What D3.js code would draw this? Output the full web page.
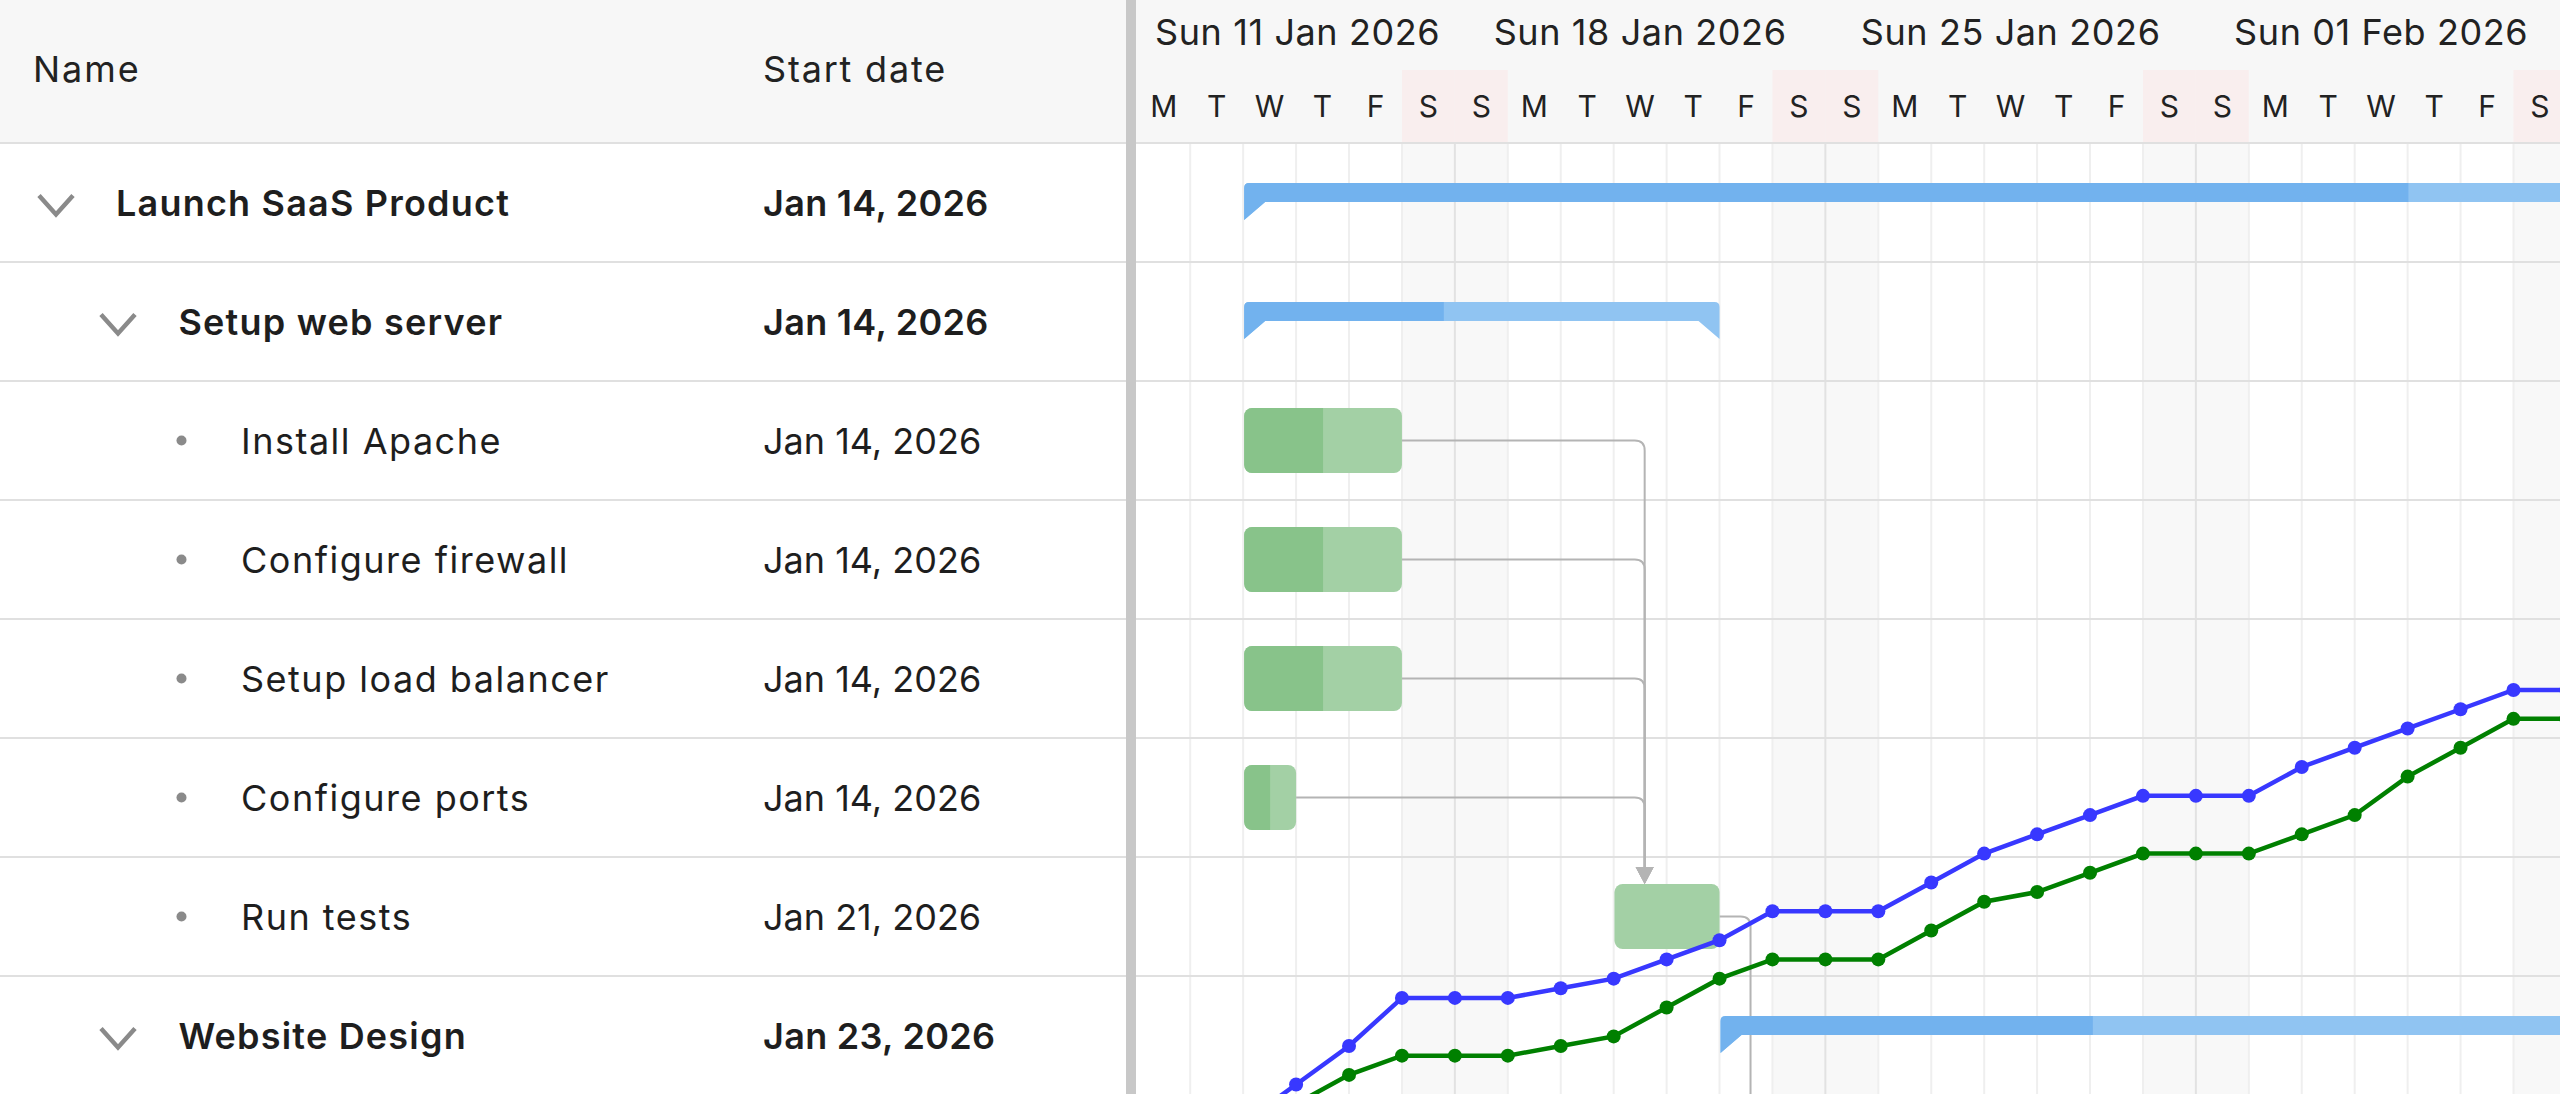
<!DOCTYPE html>
<html>
<head>
<meta charset="utf-8">
<script src="https://cdn.jsdelivr.net/npm/d3@7"></script>
<style>
  html, body { margin: 0; padding: 0; background: #fff; overflow: hidden; }
  svg { display: block; font-family: Inter, "Noto Sans", sans-serif; }
</style>
</head>
<body>
<svg id="gantt" width="2560" height="1094"></svg>
<script>
// ---- data ----
var taskNames = ["Launch SaaS Product", "Setup web server", "Install Apache", "Configure firewall",
  "Setup load balancer", "Configure ports", "Run tests", "Website Design"];
var taskLevels = [0, 1, 2, 2, 2, 2, 2, 1];
var taskStarts = ["2026-01-14", "2026-01-14", "2026-01-14", "2026-01-14", "2026-01-14", "2026-01-14", "2026-01-21", "2026-01-23"];
var taskEnds = ["2026-02-14", "2026-01-23", "2026-01-17", "2026-01-17", "2026-01-17", "2026-01-15", "2026-01-23", "2026-02-14"];
var taskDone = [71, 42, 50, 50, 50, 50, 0, 32];

// dependencies: source row -> target row / target start
var depSource = [2, 3, 4, 5, 6];
var depTargetRow = [6, 6, 6, 6, 8];
var depTargetStart = ["2026-01-21", "2026-01-21", "2026-01-21", "2026-01-21", "2026-01-23"];

// overlay series
var lineDates = ["2026-01-14", "2026-01-15", "2026-01-16", "2026-01-17", "2026-01-18", "2026-01-19", "2026-01-20",
  "2026-01-21", "2026-01-22", "2026-01-23", "2026-01-24", "2026-01-25", "2026-01-26", "2026-01-27", "2026-01-28",
  "2026-01-29", "2026-01-30", "2026-01-31", "2026-02-01", "2026-02-02", "2026-02-03", "2026-02-04", "2026-02-05",
  "2026-02-06", "2026-02-07", "2026-02-08"];
var blueValues = [0, 4, 8, 13, 13, 13, 14, 15, 17, 19, 22, 22, 22, 25, 28, 30, 32, 34, 34, 34, 37, 39, 41, 43, 45, 45];
var greenValues = [0, 2, 5, 7, 7, 7, 8, 9, 12, 15, 17, 17, 17, 20, 23, 24, 26, 28, 28, 28, 30, 32, 36, 39, 42, 42];

var viewStart = "2026-01-12";
var viewEnd = "2026-02-08";
var weekStart = "2026-01-11";

// ---- layout ----
var width = 2560, height = 1094;
var headerH = 143, rowH = 119;
var splitX = 1126, splitW = 10;
var tlLeft = splitX + splitW;
var dayW = 52.93;

var parse = d3.utcParse("%Y-%m-%d");
var x = d3.scaleUtc()
  .domain([parse(viewStart), parse(viewEnd)])
  .range([1137.3, 1137.3 + 27 * dayW]);

var yLine = d3.scaleLinear().domain([0, 45]).range([1123, 690]);

var svg = d3.select("#gantt");
var defs = svg.append("defs");

defs.append("clipPath").attr("id", "tlClip")
  .append("rect").attr("x", tlLeft).attr("y", 0).attr("width", width - tlLeft).attr("height", height);
defs.append("clipPath").attr("id", "bodyClip")
  .append("rect").attr("x", tlLeft).attr("y", headerH).attr("width", width - tlLeft).attr("height", height - headerH);
defs.append("clipPath").attr("id", "gridClip")
  .append("rect").attr("x", 0).attr("y", 0).attr("width", splitX).attr("height", height);

// backgrounds
svg.append("rect").attr("width", width).attr("height", height).attr("fill", "#fff");
svg.append("rect").attr("width", width).attr("height", headerH).attr("fill", "#f7f7f7");

var days = d3.utcDays(parse(viewStart), parse(viewEnd));
var weeks = d3.utcSunday.range(parse(weekStart), parse(viewEnd));
function isWeekend(d) { return d.getUTCDay() === 0 || d.getUTCDay() === 6; }

var tl = svg.append("g").attr("clip-path", "url(#tlClip)");

// weekend shading
tl.selectAll(".wkend")
  .data(days.filter(isWeekend))
  .enter().append("rect")
    .attr("x", function(d) { return x(d); })
    .attr("y", headerH)
    .attr("width", dayW)
    .attr("height", height - headerH)
    .attr("fill", "#f8f8f8");
tl.selectAll(".wkendHead")
  .data(days.filter(isWeekend))
  .enter().append("rect")
    .attr("x", function(d) { return x(d); })
    .attr("y", 70)
    .attr("width", dayW)
    .attr("height", headerH - 70)
    .attr("fill", "#f9eeee");

// day column lines
tl.selectAll(".dayline")
  .data(days.slice(1))
  .enter().append("line")
    .attr("x1", function(d) { return x(d); })
    .attr("x2", function(d) { return x(d); })
    .attr("y1", headerH)
    .attr("y2", height)
    .attr("stroke", function(d) { return d.getUTCDay() === 0 ? "#e2e2e2" : "#efefef"; })
    .attr("stroke-width", 2);

// day letters
tl.selectAll(".daylbl")
  .data(days)
  .enter().append("text")
    .attr("x", function(d) { return x(d) + dayW / 2; })
    .attr("y", 117)
    .attr("text-anchor", "middle")
    .attr("font-size", 30)
    .attr("fill", "#222")
    .text(function(d) { return d3.utcFormat("%a")(d).charAt(0); });

// week labels (first one sticks to the left edge)
var weekFmt = d3.utcFormat("%a %d %b %Y");
tl.selectAll(".weeklbl")
  .data(weeks)
  .enter().append("text")
    .attr("y", 45)
    .attr("text-anchor", "middle")
    .attr("font-size", 36)
    .attr("letter-spacing", 0.6)
    .attr("fill", "#222")
    .text(function(d) { return weekFmt(d); })
    .attr("x", function(d) {
      var c = (x(d) + x(d3.utcDay.offset(d, 7))) / 2;
      var half = this.getComputedTextLength() / 2;
      return Math.max(c, tlLeft + 19 + half);
    });

// row lines
var rowLines = d3.range(0, taskNames.length + 1).map(function(i) { return headerH + i * rowH; });
svg.selectAll(".rowline")
  .data(rowLines)
  .enter().append("line")
    .attr("x1", 0).attr("x2", width)
    .attr("y1", function(d) { return d; })
    .attr("y2", function(d) { return d; })
    .attr("stroke", "#e0e0e0")
    .attr("stroke-width", 2);

// ---- timeline body ----
var body = svg.append("g").attr("clip-path", "url(#bodyClip)");

// dependency lines
var depG = body.append("g");
depSource.forEach(function(s, i) {
  var xs = x(parse(taskEnds[s]));
  var ys = headerH + s * rowH + rowH / 2;
  var xc = x(parse(depTargetStart[i])) + 31;
  var yt = headerH + depTargetRow[i] * rowH + 27;
  var r = 10;
  depG.append("path")
    .attr("d", "M" + xs + "," + ys + " L" + (xc - r) + "," + ys +
      " Q" + xc + "," + ys + " " + xc + "," + (ys + r) + " L" + xc + "," + (yt - 16))
    .attr("fill", "none")
    .attr("stroke", "#b4b4b4")
    .attr("stroke-width", 2);
  depG.append("path")
    .attr("d", "M" + xc + "," + yt + " L" + (xc - 9) + "," + (yt - 17) + " L" + (xc + 9) + "," + (yt - 17) + " Z")
    .attr("fill", "#b4b4b4");
});

// bars
function summaryPath(x1, x2, y) {
  var r = 5, h = 19, tip = 37, tw = 21;
  return "M" + x1 + "," + (y + tip) + " L" + x1 + "," + (y + r) + " Q" + x1 + "," + y + " " + (x1 + r) + "," + y +
    " L" + (x2 - r) + "," + y + " Q" + x2 + "," + y + " " + x2 + "," + (y + r) +
    " L" + x2 + "," + (y + tip) + " L" + (x2 - tw) + "," + (y + h) + " L" + (x1 + tw) + "," + (y + h) + " Z";
}

var barG = body.append("g");
taskNames.forEach(function(name, i) {
  var x1 = x(parse(taskStarts[i])) + 1;
  var x2 = x(parse(taskEnds[i]));
  var top = headerH + i * rowH;
  var px = x1 + (x2 - x1) * taskDone[i] / 100;
  var cid = "prog" + i;
  defs.append("clipPath").attr("id", cid)
    .append("rect").attr("x", x1 - 2).attr("y", top).attr("width", px - x1 + 2).attr("height", rowH);
  if (taskLevels[i] < 2) {
    var d = summaryPath(x1, x2, top + 40);
    barG.append("path").attr("d", d).attr("fill", "#90c4f2");
    barG.append("path").attr("d", d).attr("fill", "#72b2ee").attr("clip-path", "url(#" + cid + ")");
  } else {
    barG.append("rect")
      .attr("x", x1).attr("y", top + 27).attr("width", x2 - x1).attr("height", 65).attr("rx", 8)
      .attr("fill", "#a3d0a5");
    barG.append("rect")
      .attr("x", x1).attr("y", top + 27).attr("width", x2 - x1).attr("height", 65).attr("rx", 8)
      .attr("fill", "#88c38a").attr("clip-path", "url(#" + cid + ")");
  }
});

// overlay lines
var lineData = lineDates.map(function(d, i) { return { date: parse(d), blue: blueValues[i], green: greenValues[i] }; });
[["green", "#008000"], ["blue", "#3838ff"]].forEach(function(s) {
  var key = s[0], col = s[1];
  var line = d3.line()
    .x(function(d) { return x(d.date); })
    .y(function(d) { return yLine(d[key]); });
  body.append("path")
    .datum(lineData)
    .attr("d", line)
    .attr("fill", "none")
    .attr("stroke", col)
    .attr("stroke-width", 4.5);
  body.selectAll(".dot-" + key)
    .data(lineData)
    .enter().append("circle")
      .attr("cx", function(d) { return x(d.date); })
      .attr("cy", function(d) { return yLine(d[key]); })
      .attr("r", 7)
      .attr("fill", col);
});

// ---- grid pane ----
var grid = svg.append("g").attr("clip-path", "url(#gridClip)");
grid.append("text").attr("x", 33).attr("y", 82).attr("font-size", 36).attr("letter-spacing", 2).attr("fill", "#222").text("Name");
grid.append("text").attr("x", 763).attr("y", 82).attr("font-size", 36).attr("letter-spacing", 1.8).attr("fill", "#222").text("Start date");

var dateFmt = d3.utcFormat("%b %-d, %Y");
taskNames.forEach(function(name, i) {
  var cy = headerH + i * rowH + rowH / 2;
  var lvl = taskLevels[i];
  var parent = lvl < 2;
  if (parent) {
    var cx = 39 + lvl * 62;
    grid.append("path")
      .attr("d", "M" + cx + "," + (cy - 7) + " L" + (cx + 17) + "," + (cy + 12) + " L" + (cx + 34) + "," + (cy - 7))
      .attr("fill", "none")
      .attr("stroke", "#8a8a8a")
      .attr("stroke-width", 4.5);
  } else {
    grid.append("circle").attr("cx", 181.5).attr("cy", cy).attr("r", 5).attr("fill", "#8a8a8a");
  }
  grid.append("text")
    .attr("x", 116 + lvl * 62.5)
    .attr("y", cy + 13)
    .attr("font-size", 36)
    .attr("letter-spacing", parent ? 1.2 : 1.5)
    .attr("font-weight", parent ? 600 : 400)
    .attr("fill", "#1e1e1e")
    .text(name);
  grid.append("text")
    .attr("x", 763)
    .attr("y", cy + 13)
    .attr("font-size", 36)
    .attr("letter-spacing", parent ? 0.3 : 0)
    .attr("font-weight", parent ? 600 : 400)
    .attr("fill", "#1e1e1e")
    .text(dateFmt(parse(taskStarts[i])));
});

// splitter
svg.append("rect").attr("x", splitX).attr("y", 0).attr("width", splitW).attr("height", height).attr("fill", "#c8c8c8");
</script>
</body>
</html>
